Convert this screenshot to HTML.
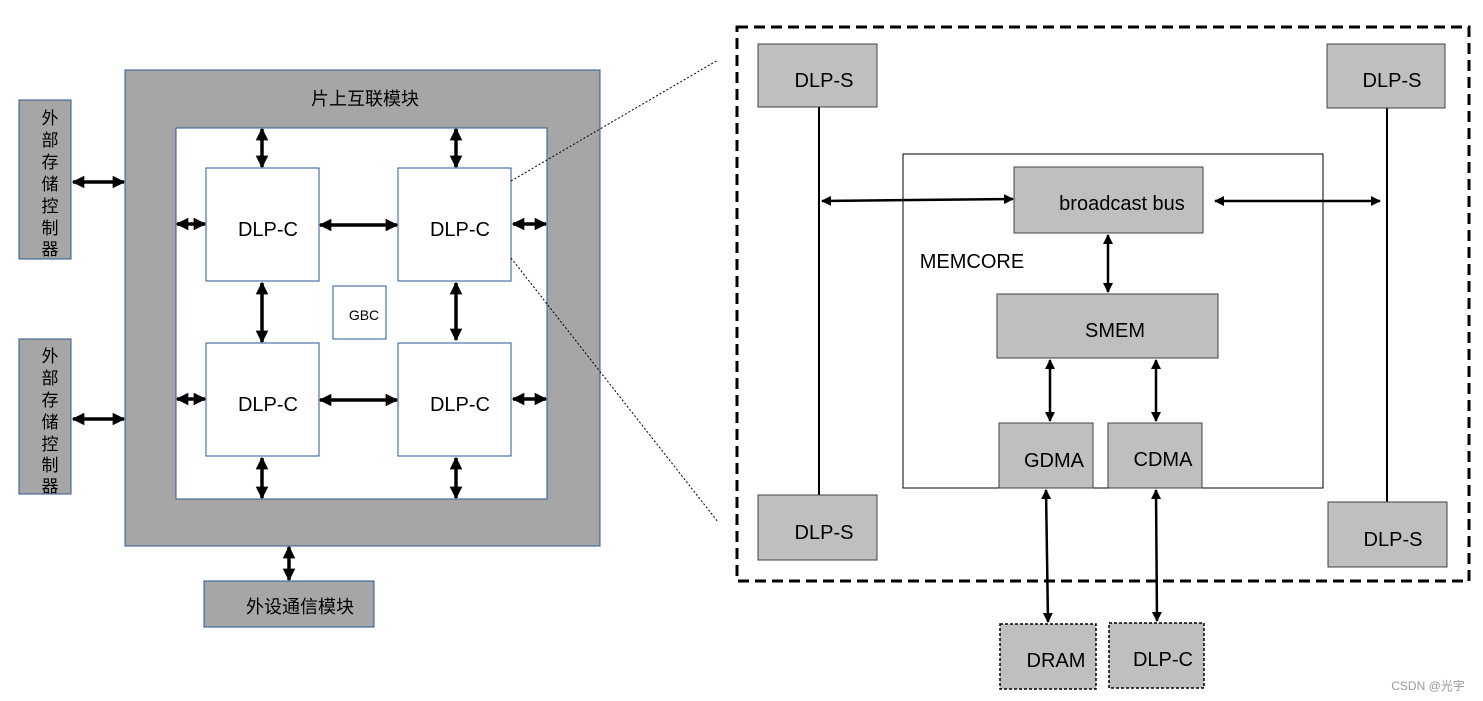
<!DOCTYPE html>
<html><head><meta charset="utf-8"><style>
body{margin:0;background:#fff;}
svg{display:block;}
text{font-family:"Liberation Sans","Noto Sans CJK SC",sans-serif;fill:#000;}
</style></head><body>
<svg width="1483" height="701" viewBox="0 0 1483 701" xmlns="http://www.w3.org/2000/svg">
<defs>
<marker id="a" viewBox="0 0 10 10" refX="9" refY="5" markerWidth="3.6" markerHeight="3.6" orient="auto-start-reverse"><path d="M0,0L10,5L0,10z" fill="#000"/></marker>
<marker id="b" viewBox="0 0 10 10" refX="9" refY="5" markerWidth="4" markerHeight="4" orient="auto-start-reverse"><path d="M0,0L10,5L0,10z" fill="#000"/></marker>
</defs>
<!-- left diagram -->
<rect x="125" y="70" width="475" height="476" fill="#a6a6a6" stroke="#2f5597" stroke-width="1"/>
<text x="365" y="105" font-size="18" text-anchor="middle">片上互联模块</text>
<rect x="176" y="128" width="371" height="371" fill="#fff" stroke="#2f5597" stroke-width="1"/>
<g fill="#fff" stroke="#2f5597" stroke-width="1">
<rect x="206" y="168" width="113" height="113"/>
<rect x="398" y="168" width="113" height="113"/>
<rect x="206" y="343" width="113" height="113"/>
<rect x="398" y="343" width="113" height="113"/>
<rect x="333" y="286" width="53" height="53"/>
</g>
<g font-size="20" text-anchor="middle">
<text x="268" y="236">DLP-C</text>
<text x="460" y="236">DLP-C</text>
<text x="268" y="411">DLP-C</text>
<text x="460" y="411">DLP-C</text>
</g>
<text x="364" y="320" font-size="14" text-anchor="middle">GBC</text>
<g fill="#a6a6a6" stroke="#2f5597" stroke-width="1">
<rect x="19" y="100" width="52" height="159"/>
<rect x="19" y="339" width="52" height="155"/>
<rect x="204" y="581" width="170" height="46"/>
</g>
<g font-size="17" text-anchor="middle">
<text x="50" y="124">外</text><text x="50" y="146">部</text><text x="50" y="168">存</text><text x="50" y="190">储</text><text x="50" y="212">控</text><text x="50" y="234">制</text><text x="50" y="255">器</text>
<text x="50" y="362">外</text><text x="50" y="384">部</text><text x="50" y="406">存</text><text x="50" y="428">储</text><text x="50" y="450">控</text><text x="50" y="471">制</text><text x="50" y="492">器</text>
</g>
<text x="300" y="613" font-size="18" text-anchor="middle">外设通信模块</text>
<g stroke="#000" stroke-width="3.5" marker-start="url(#a)" marker-end="url(#a)">
<line x1="73" y1="182" x2="124" y2="182"/>
<line x1="73" y1="419" x2="124" y2="419"/>
<line x1="262" y1="129" x2="262" y2="167"/>
<line x1="456" y1="129" x2="456" y2="167"/>
<line x1="262" y1="458" x2="262" y2="498"/>
<line x1="456" y1="458" x2="456" y2="498"/>
<line x1="262" y1="283" x2="262" y2="342"/>
<line x1="456" y1="283" x2="456" y2="340"/>
<line x1="177" y1="224" x2="205" y2="224"/>
<line x1="177" y1="399" x2="205" y2="399"/>
<line x1="513" y1="224" x2="546" y2="224"/>
<line x1="513" y1="399" x2="546" y2="399"/>
<line x1="320" y1="225" x2="397" y2="225"/>
<line x1="320" y1="400" x2="397" y2="400"/>
<line x1="289" y1="547" x2="289" y2="580"/>
</g>
<line x1="511" y1="181" x2="718" y2="60" stroke="#000" stroke-width="1" stroke-dasharray="2,2"/>
<line x1="511" y1="258" x2="718" y2="522" stroke="#000" stroke-width="1" stroke-dasharray="2,2"/>
<!-- right diagram -->
<rect x="737" y="27" width="732" height="554" fill="none" stroke="#000" stroke-width="3" stroke-dasharray="11,6"/>
<g stroke="#000" stroke-width="2">
<line x1="819" y1="107" x2="819" y2="495"/>
<line x1="1387" y1="108" x2="1387" y2="502"/>
</g>
<rect x="903" y="154" width="420" height="334" fill="#fff" stroke="#000" stroke-width="1"/>
<g fill="#bfbfbf" stroke="#404040" stroke-width="1">
<rect x="758" y="44" width="119" height="63"/>
<rect x="1327" y="44" width="118" height="64"/>
<rect x="758" y="495" width="119" height="65"/>
<rect x="1328" y="502" width="119" height="65"/>
<rect x="1014" y="167" width="189" height="66"/>
<rect x="997" y="294" width="221" height="64"/>
<rect x="999" y="423" width="94" height="65"/>
<rect x="1108" y="423" width="94" height="65"/>
</g>
<g fill="#bfbfbf" stroke="#000" stroke-width="1.5" stroke-dasharray="3,2">
<rect x="1000" y="624" width="96" height="65"/>
<rect x="1109" y="623" width="95" height="65"/>
</g>
<g font-size="20" text-anchor="middle">
<text x="824" y="87">DLP-S</text>
<text x="1392" y="87">DLP-S</text>
<text x="824" y="539">DLP-S</text>
<text x="1393" y="546">DLP-S</text>
<text x="1122" y="210">broadcast bus</text>
<text x="1115" y="337">SMEM</text>
<text x="1054" y="467">GDMA</text>
<text x="1163" y="466">CDMA</text>
<text x="1056" y="667">DRAM</text>
<text x="1163" y="666">DLP-C</text>
<text x="972" y="268" text-anchor="middle">MEMCORE</text>
</g>
<g stroke="#000" stroke-width="2.5" marker-start="url(#b)" marker-end="url(#b)">
<line x1="822" y1="201" x2="1013" y2="199"/>
<line x1="1215" y1="201" x2="1380" y2="201"/>
<line x1="1108" y1="235" x2="1108" y2="292"/>
<line x1="1050" y1="360" x2="1050" y2="421"/>
<line x1="1156" y1="360" x2="1156" y2="421"/>
<line x1="1046" y1="490" x2="1048" y2="622"/>
<line x1="1156" y1="490" x2="1157" y2="621"/>
</g>
<text x="1428" y="690" font-size="12" text-anchor="middle" style="fill:#999">CSDN @光宇</text>
</svg>
</body></html>
